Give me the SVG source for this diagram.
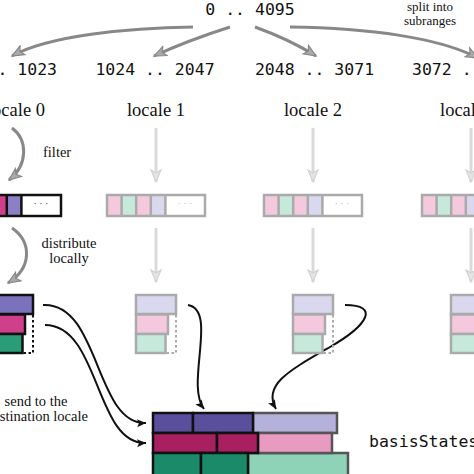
<svg xmlns="http://www.w3.org/2000/svg" width="474" height="474" viewBox="0 0 474 474">
<style>
.mono{font-family:"DejaVu Sans Mono","Liberation Mono",monospace;font-size:16.5px;fill:#111}
.serif{font-family:"Liberation Serif","DejaVu Serif",serif;fill:#111}
.loc{font-size:18.5px}
.lab{font-size:14.5px}
.grey{stroke:#888;stroke-width:3;fill:none}
.faint{stroke:#dadada;stroke-width:3;fill:none}
.black{stroke:#111;stroke-width:2;fill:none}
.fb{stroke:#aaa;stroke-width:2.5}
.db{stroke:#111;stroke-width:2.5}
.lb{stroke:#555;stroke-width:2.5}
.dots{font-family:"DejaVu Sans",sans-serif;font-size:9px}
</style>
<defs>
<marker id="ag" markerUnits="userSpaceOnUse" markerWidth="16" markerHeight="14" refX="13" refY="6" orient="auto" viewBox="0 0 16 12">
<path d="M1,1 L13,6 L1,11 L4,6 Z" fill="#aaa" stroke="#888" stroke-width="1.2"/>
</marker>
<marker id="af" markerUnits="userSpaceOnUse" markerWidth="16" markerHeight="14" refX="13" refY="6" orient="auto" viewBox="0 0 16 12">
<path d="M1,1 L13,6 L1,11 L4,6 Z" fill="#e4e4e4" stroke="#d2d2d2" stroke-width="1.2"/>
</marker>
<marker id="ab" markerUnits="userSpaceOnUse" markerWidth="12" markerHeight="10" refX="10" refY="5" orient="auto" viewBox="0 0 12 10">
<path d="M1,1 L10,5 L1,9 L3,5 Z" fill="#111"/>
</marker>
</defs>

<g id="connectors">
<path class="grey" d="M193,27 C130,28 50,35 12,56" marker-end="url(#ag)"/>
<path class="grey" d="M230,27 C205,35 180,44 154,56" marker-end="url(#ag)"/>
<path class="grey" d="M255,27 C280,36 300,46 316,56" marker-end="url(#ag)"/>
<path class="grey" d="M290,27 C370,28 440,38 478,58" marker-end="url(#ag)"/>
<path class="grey" d="M12,128 C28,140 28,165 9,180" marker-end="url(#ag)"/>
<path class="grey" d="M12,228 C32,242 32,268 8,283" marker-end="url(#ag)"/>
<path class="faint" d="M156,128 L156,182" marker-end="url(#af)"/>
<path class="faint" d="M156,228 L156,282" marker-end="url(#af)"/>
<path class="faint" d="M313,128 L313,182" marker-end="url(#af)"/>
<path class="faint" d="M313,228 L313,282" marker-end="url(#af)"/>
<path class="faint" d="M471,128 L471,182" marker-end="url(#af)"/>
<path class="faint" d="M471,228 L471,282" marker-end="url(#af)"/>
<path class="black" d="M43,305 C100,302 95,425 146,423" marker-end="url(#ab)"/>
<path class="black" d="M45,325 C100,325 95,445 146,443" marker-end="url(#ab)"/>
<path class="black" d="M188,305 C218,310 185,385 204,409" marker-end="url(#ab)"/>
<path class="black" d="M345,305 C380,305 368,325 330,347 C290,370 262,385 276,409" marker-end="url(#ab)"/>
</g>

<g id="full-range"><text class="mono" x="250" y="15" text-anchor="middle">0 .. 4095</text></g>
<g id="split-label" class="serif" font-size="13">
<text x="430" y="11" text-anchor="middle">split into</text>
<text x="430" y="25" text-anchor="middle">subranges</text>
</g>
<g id="range0"><text class="mono" x="57" y="75" text-anchor="end">0 .. 1023</text></g>
<g id="range1"><text class="mono" x="155" y="75" text-anchor="middle">1024 .. 2047</text></g>
<g id="range2"><text class="mono" x="314.5" y="75" text-anchor="middle">2048 .. 3071</text></g>
<g id="range3"><text class="mono" x="412" y="75">3072 .. 4095</text></g>

<g id="locale0"><text class="serif loc" x="45" y="116" text-anchor="end">locale 0</text></g>
<g id="locale1"><text class="serif loc" x="156" y="116" text-anchor="middle">locale 1</text></g>
<g id="locale2"><text class="serif loc" x="313" y="116" text-anchor="middle">locale 2</text></g>
<g id="locale3"><text class="serif loc" x="440" y="116">locale 3</text></g>

<g id="filter-label"><text class="serif lab" x="43" y="157">filter</text></g>
<g id="distribute-label" class="serif lab">
<text x="69" y="248" text-anchor="middle">distribute</text>
<text x="69" y="263" text-anchor="middle">locally</text>
</g>
<g id="send-label" class="serif lab">
<text x="36" y="406" text-anchor="middle">send to the</text>
<text x="37" y="421" text-anchor="middle">destination locale</text>
</g>

<g id="array0">
<rect x="-37" y="195" width="14.6" height="21" fill="#d0408a"/>
<rect x="-22.4" y="195" width="14.6" height="21" fill="#2a9c78"/>
<rect x="-7.8" y="195" width="14.6" height="21" fill="#d0408a"/>
<rect x="6.8" y="195" width="14.6" height="21" fill="#8a80c6"/>
<rect x="21.4" y="195" width="39.6" height="21" fill="#fff"/>
<path class="db" d="M-22.4,195V216M-7.8,195V216M6.8,195V216M21.4,195V216"/>
<rect x="-37" y="195" width="98" height="21" fill="none" class="db"/>
<text class="dots" x="41" y="207" text-anchor="middle" fill="#333">· · ·</text>
</g>
<g id="array1">
<rect x="107" y="195" width="14.6" height="21" fill="#f4c9de"/>
<rect x="121.6" y="195" width="14.6" height="21" fill="#c6e9dc"/>
<rect x="136.2" y="195" width="14.6" height="21" fill="#f4c9de"/>
<rect x="150.8" y="195" width="14.6" height="21" fill="#d9d8ee"/>
<rect x="165.4" y="195" width="39.6" height="21" fill="#fff"/>
<path class="fb" d="M121.6,195V216M136.2,195V216M150.8,195V216M165.4,195V216"/>
<rect x="107" y="195" width="98" height="21" fill="none" class="fb"/>
<text class="dots" x="185" y="207" text-anchor="middle" fill="#bbb">· · ·</text>
</g>
<g id="array2">
<rect x="264" y="195" width="14.6" height="21" fill="#f4c9de"/>
<rect x="278.6" y="195" width="14.6" height="21" fill="#c6e9dc"/>
<rect x="293.2" y="195" width="14.6" height="21" fill="#f4c9de"/>
<rect x="307.8" y="195" width="14.6" height="21" fill="#d9d8ee"/>
<rect x="322.4" y="195" width="39.6" height="21" fill="#fff"/>
<path class="fb" d="M278.6,195V216M293.2,195V216M307.8,195V216M322.4,195V216"/>
<rect x="264" y="195" width="98" height="21" fill="none" class="fb"/>
<text class="dots" x="342" y="207" text-anchor="middle" fill="#bbb">· · ·</text>
</g>
<g id="array3">
<rect x="422" y="195" width="14.6" height="21" fill="#f4c9de"/>
<rect x="436.6" y="195" width="14.6" height="21" fill="#c6e9dc"/>
<rect x="451.2" y="195" width="14.6" height="21" fill="#f4c9de"/>
<rect x="465.8" y="195" width="14.6" height="21" fill="#d9d8ee"/>
<path class="fb" d="M436.6,195V216M451.2,195V216M465.8,195V216"/>
<rect x="422" y="195" width="98" height="21" fill="none" class="fb"/>
</g>

<g id="stack0">
<rect x="-7" y="295" width="40" height="19" fill="#7a72bc" class="db"/>
<rect x="-7" y="314.5" width="32" height="19.5" fill="#d0408a" class="db"/>
<rect x="-7" y="334" width="29.5" height="19" fill="#2a9c78" class="db"/>
<path d="M33,315V353H22.5" stroke="#111" stroke-width="2" stroke-dasharray="2.5,2.5" fill="none"/>
</g>
<g id="stack1">
<rect x="136" y="295" width="40" height="19" fill="#d9d8ee" class="fb"/>
<rect x="136" y="314.5" width="32" height="19.5" fill="#f4c9de" class="fb"/>
<rect x="136" y="334" width="29.5" height="19" fill="#c6e9dc" class="fb"/>
<path d="M176,315V353H165.5" stroke="#aaa" stroke-width="2" stroke-dasharray="2.5,2.5" fill="none"/>
</g>
<g id="stack2">
<rect x="293" y="295" width="40" height="19" fill="#d9d8ee" class="fb"/>
<rect x="293" y="314.5" width="32" height="19.5" fill="#f4c9de" class="fb"/>
<rect x="293" y="334" width="29.5" height="19" fill="#c6e9dc" class="fb"/>
<path d="M333,315V353H322.5" stroke="#aaa" stroke-width="2" stroke-dasharray="2.5,2.5" fill="none"/>
</g>
<g id="stack3">
<rect x="451" y="295" width="40" height="19" fill="#d9d8ee" class="fb"/>
<rect x="451" y="314.5" width="32" height="19.5" fill="#f4c9de" class="fb"/>
<rect x="451" y="334" width="29.5" height="19" fill="#c6e9dc" class="fb"/>
</g>

<g id="basisStates-array">
<rect x="253" y="413" width="84" height="20" fill="#b4b2da" class="lb"/>
<rect x="153" y="413" width="40" height="20" fill="#5a4f9c" class="db"/>
<rect x="193" y="413" width="60" height="20" fill="#5a4f9c" class="db"/>
<rect x="248" y="453" width="100" height="24" fill="#8ed2b8" class="lb"/>
<rect x="258" y="433" width="74" height="20" fill="#e89ac0" class="lb"/>
<rect x="153" y="433" width="64" height="20" fill="#a82060" class="db"/>
<rect x="217" y="433" width="41" height="20" fill="#a82060" class="db"/>
<rect x="153" y="453" width="48" height="24" fill="#1a8a68" class="db"/>
<rect x="201" y="453" width="47" height="24" fill="#1a8a68" class="db"/>
</g>
<g id="basisStates-label"><text class="mono" x="369" y="447">basisStates</text></g>
</svg>
